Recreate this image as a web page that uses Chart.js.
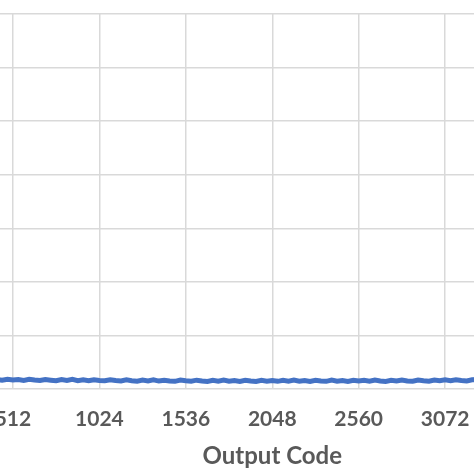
<!DOCTYPE html>
<html>
<head>
<meta charset="utf-8">
<script src="https://cdn.jsdelivr.net/npm/chart.js@4/dist/chart.umd.min.js"></script>
<style>
html,body{margin:0;padding:0;width:474px;height:474px;overflow:hidden;background:#fff;}
#wrap{position:absolute;left:-100px;top:0;width:760px;height:474px;}
</style>
</head>
<body>
<div id="wrap"><canvas id="c"></canvas></div>
<script>
const codes = [0,32,64,96,128,160,192,224,256,288,320,352,384,416,448,480,512,
544,576,608,640,672,704,736,768,800,832,864,896,928,960,992,1024,
1056,1088,1120,1152,1184,1216,1248,1280,1312,1344,1376,1408,1440,1472,1504,1536,
1568,1600,1632,1664,1696,1728,1760,1792,1824,1856,1888,1920,1952,1984,2016,2048,
2080,2112,2144,2176,2208,2240,2272,2304,2336,2368,2400,2432,2464,2496,2528,2560,
2592,2624,2656,2688,2720,2752,2784,2816,2848,2880,2912,2944,2976,3008,3040,3072,
3104,3136,3168,3200,3232,3264,3296,3328,3360,3392,3424,3456,3488,3520,3552,3584,
3616,3648,3680,3712,3744,3776,3808,3840,3872,3904,3936,3968,4000,4032,4064,4096];
const values = [0.180,0.168,0.190,0.174,0.165,0.186,0.172,0.182,0.164,0.184,0.171,0.189,0.166,0.179,0.162,0.183,0.170,
0.178,0.161,0.182,0.168,0.158,0.178,0.165,0.154,0.175,0.160,0.179,0.156,0.171,0.153,0.174,0.160,
0.155,0.173,0.157,0.150,0.170,0.155,0.146,0.167,0.152,0.171,0.148,0.164,0.151,0.143,0.166,0.154,
0.147,0.165,0.149,0.142,0.162,0.147,0.167,0.144,0.159,0.141,0.163,0.148,0.139,0.161,0.145,0.158,
0.143,0.162,0.147,0.165,0.144,0.158,0.140,0.163,0.149,0.143,0.166,0.146,0.160,0.141,0.164,0.148,
0.161,0.145,0.167,0.150,0.142,0.163,0.148,0.169,0.151,0.144,0.166,0.153,0.146,0.168,0.154,0.171,
0.156,0.174,0.159,0.151,0.172,0.177,0.157,0.170,0.179,0.158,0.173,0.154,0.176,0.162,0.178,0.160,
0.174,0.158,0.179,0.164,0.155,0.176,0.161,0.181,0.163,0.175,0.159,0.180,0.165,0.177,0.162,0.174];
const xTitle = 'Output Code';
const xMin = 0, xMax = 4096, xStep = 512;
const yMin = 0, yMax = 7, yStep = 1;

const pts = codes.map((c, i) => ({x: c, y: values[i]}));

new Chart(document.getElementById('c'), {
  type: 'line',
  data: { datasets: [{
    data: pts,
    borderColor: '#4472C4',
    borderWidth: 5,
    pointRadius: 0,
    tension: 0,
    fill: false
  }]},
  options: {
    responsive: true,
    maintainAspectRatio: false,
    animation: false,
    layout: { padding: { left: 26.5, right: 42, top: 14, bottom: 3 } },
    plugins: { legend: { display: false }, tooltip: { enabled: false } },
    scales: {
      x: {
        type: 'linear', min: xMin, max: xMax,
        ticks: { stepSize: xStep, padding: 17.5, color: '#595959', maxRotation: 0, autoSkip: false,
                 callback: v => String(v),
                 font: { family: 'Lato', weight: 'bold', size: 21 } },
        grid: { color: '#d9d9d9', lineWidth: 1.5, drawTicks: false },
        border: { display: false },
        title: { display: true, text: xTitle, color: '#595959', padding: { top: -7, bottom: 0 },
                 font: { family: 'Lato', weight: 'bold', size: 24 } }
      },
      y: {
        min: yMin, max: yMax,
        ticks: { stepSize: yStep, display: false },
        grid: { color: '#d9d9d9', lineWidth: 1.5, drawTicks: false },
        border: { display: false }
      }
    }
  }
});
</script>
</body>
</html>
